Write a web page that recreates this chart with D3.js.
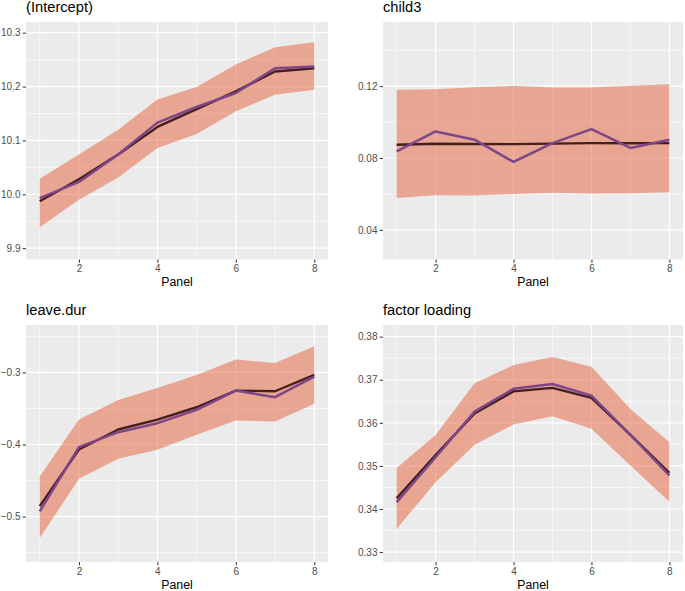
<!DOCTYPE html>
<html>
<head>
<meta charset="utf-8">
<script src="https://cdn.jsdelivr.net/npm/d3@7"></script>
<style>
  html, body { margin: 0; padding: 0; background: #fff; }
  svg text { font-family: "Liberation Sans", Arial, Helvetica, sans-serif; }
</style>
</head>
<body>
<svg id="chart" width="685" height="591"></svg>
<script>
// --- data ---
const panelX = [1, 2, 3, 4, 5, 6, 7, 8];
const panelTitles = ["(Intercept)", "child3", "leave.dur", "factor loading"];

const bandLower = [
  [9.939, 9.990, 10.031, 10.086, 10.112, 10.154, 10.185, 10.194],
  [0.0578, 0.0593, 0.0591, 0.0600, 0.0606, 0.0602, 0.0604, 0.0609],
  [-0.5298, -0.4476, -0.4199, -0.4074, -0.3866, -0.3667, -0.3681, -0.3436],
  [0.3354, 0.3462, 0.3549, 0.3596, 0.3615, 0.3586, 0.3501, 0.3417]
];
const bandUpper = [
  [10.029, 10.074, 10.120, 10.176, 10.199, 10.241, 10.273, 10.282],
  [0.1180, 0.1183, 0.1194, 0.1202, 0.1193, 0.1193, 0.1202, 0.1211],
  [-0.4443, -0.3654, -0.3381, -0.3215, -0.3035, -0.2822, -0.2868, -0.2637],
  [0.3495, 0.3572, 0.3692, 0.3734, 0.3753, 0.3730, 0.3632, 0.3555]
];
const fittedLine = [
  [9.987, 10.028, 10.074, 10.125, 10.158, 10.191, 10.228, 10.234],
  [0.0874, 0.0879, 0.0878, 0.0877, 0.0880, 0.0883, 0.0882, 0.0883],
  [-0.4855, -0.4069, -0.3792, -0.3654, -0.3483, -0.3252, -0.3261, -0.3035],
  [0.3425, 0.3525, 0.3622, 0.3673, 0.3681, 0.3658, 0.3572, 0.3484]
];
const panelLine = [
  [9.993, 10.023, 10.074, 10.133, 10.162, 10.188, 10.234, 10.237],
  [0.0837, 0.0948, 0.0902, 0.0778, 0.0883, 0.0961, 0.0856, 0.0902],
  [-0.4928, -0.4037, -0.3829, -0.3704, -0.3520, -0.3252, -0.3344, -0.3058],
  [0.3416, 0.3520, 0.3626, 0.3679, 0.3690, 0.3663, 0.3572, 0.3478]
];

// axis limits and tick labels
const xTicks = [2, 4, 6, 8];
const yLimits = [
  [9.879, 10.3198],
  [0.0235, 0.1557],
  [-0.563, -0.2342],
  [0.3277, 0.3827]
];
const yTicks = [
  [9.9, 10.0, 10.1, 10.2, 10.3],
  [0.04, 0.08, 0.12],
  [-0.5, -0.4, -0.3],
  [0.33, 0.34, 0.35, 0.36, 0.37, 0.38]
];
const yTickFormat = [".1f", ".2f", ".1f", ".2f"];

// --- layout ---
const boxes = [
  { x0: 26, x1: 328, y0: 22, y1: 259.5 },
  { x0: 383, x1: 683, y0: 22, y1: 259.5 },
  { x0: 26, x1: 328, y0: 325, y1: 562 },
  { x0: 383, x1: 683, y0: 325, y1: 562 }
];

const svg = d3.select("#chart");

// ggplot-style minor breaks: halfway between majors, kept inside the limits
function minorsOf(ticks, lim) {
  const step = ticks[1] - ticks[0];
  const out = [];
  for (let i = -1; i < ticks.length; i++) {
    const v = ticks[0] + step * (i + 0.5);
    if (v > lim[0] && v < lim[1]) out.push(v);
  }
  return out;
}

panelTitles.forEach((title, p) => {
  const b = boxes[p];
  const x = d3.scaleLinear().domain([0.65, 8.35]).range([b.x0, b.x1]);
  const y = d3.scaleLinear().domain(yLimits[p]).range([b.y1, b.y0]);
  const g = svg.append("g");

  // background
  g.append("rect")
    .attr("x", b.x0).attr("y", b.y0)
    .attr("width", b.x1 - b.x0).attr("height", b.y1 - b.y0)
    .attr("fill", "#EBEBEB");

  // grid
  const xMinor = minorsOf(xTicks, x.domain());
  const yMinor = minorsOf(yTicks[p], yLimits[p]);
  g.selectAll(".xmin").data(xMinor).enter().append("line")
    .attr("x1", d => x(d)).attr("x2", d => x(d))
    .attr("y1", b.y0).attr("y2", b.y1)
    .attr("stroke", "#fff").attr("stroke-width", 0.6);
  g.selectAll(".ymin").data(yMinor).enter().append("line")
    .attr("x1", b.x0).attr("x2", b.x1)
    .attr("y1", d => y(d)).attr("y2", d => y(d))
    .attr("stroke", "#fff").attr("stroke-width", 0.6);
  g.selectAll(".xmaj").data(xTicks).enter().append("line")
    .attr("x1", d => x(d)).attr("x2", d => x(d))
    .attr("y1", b.y0).attr("y2", b.y1)
    .attr("stroke", "#fff").attr("stroke-width", 1.2);
  g.selectAll(".ymaj").data(yTicks[p]).enter().append("line")
    .attr("x1", b.x0).attr("x2", b.x1)
    .attr("y1", d => y(d)).attr("y2", d => y(d))
    .attr("stroke", "#fff").attr("stroke-width", 1.2);

  // ribbon
  const rows = panelX.map((v, i) => ({
    x: v, lo: bandLower[p][i], hi: bandUpper[p][i],
    fit: fittedLine[p][i], obs: panelLine[p][i]
  }));
  g.append("path")
    .datum(rows)
    .attr("d", d3.area().x(d => x(d.x)).y0(d => y(d.lo)).y1(d => y(d.hi)))
    .attr("fill", "#E5603A").attr("fill-opacity", 0.5);

  // lines
  g.append("path")
    .datum(rows)
    .attr("d", d3.line().x(d => x(d.x)).y(d => y(d.fit)))
    .attr("fill", "none").attr("stroke", "#43201F").attr("stroke-width", 2.4)
    .attr("stroke-linejoin", "round");
  g.append("path")
    .datum(rows)
    .attr("d", d3.line().x(d => x(d.x)).y(d => y(d.obs)))
    .attr("fill", "none").attr("stroke", "#7E4689").attr("stroke-width", 2.5)
    .attr("stroke-linejoin", "round");

  // axes
  const xAxis = g.append("g")
    .attr("transform", `translate(0,${b.y1})`)
    .call(d3.axisBottom(x).tickValues(xTicks).tickSize(3.3).tickPadding(2.5).tickFormat(d3.format("d")));
  const yAxis = g.append("g")
    .attr("transform", `translate(${b.x0},0)`)
    .call(d3.axisLeft(y).tickValues(yTicks[p]).tickSize(3.3).tickPadding(2.2).tickFormat(d3.format(yTickFormat[p])));
  [xAxis, yAxis].forEach(a => {
    a.select(".domain").remove();
    a.selectAll(".tick line").attr("stroke", "#333");
    a.selectAll(".tick text").attr("fill", "#4D4D4D").style("font-size", "10px");
  });
  // ggplot-style minus sign
  yAxis.selectAll(".tick text").text(function () { return this.textContent.replace("-", "\u2212"); });

  // axis title
  g.append("text")
    .attr("x", (b.x0 + b.x1) / 2).attr("y", b.y1 + 26.5)
    .attr("text-anchor", "middle")
    .attr("fill", "#000").style("font-size", "12.3px")
    .text("Panel");

  // panel title
  g.append("text")
    .attr("x", b.x0).attr("y", b.y0 - 10)
    .attr("fill", "#000").style("font-size", "14.7px")
    .text(title);
});
</script>
</body>
</html>
